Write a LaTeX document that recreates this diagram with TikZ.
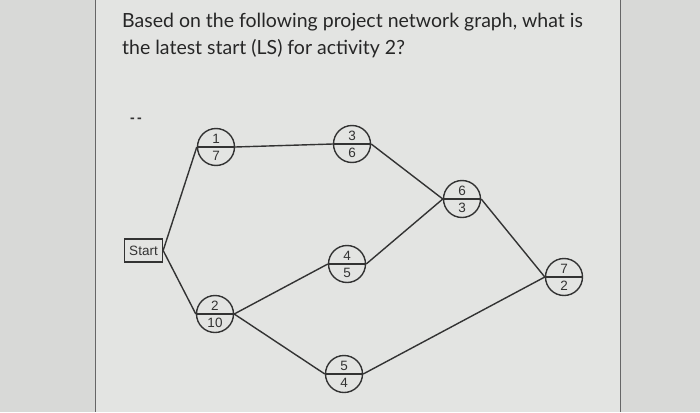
\documentclass[tikz,border=0pt]{standalone}
\usepackage{fontspec}
\setmainfont{Lato}
\newfontfamily\diagfont{Liberation Sans}
\usetikzlibrary{positioning}

\definecolor{screengray}{HTML}{D8D9D7}
\definecolor{panelgray}{HTML}{E3E4E2}
\definecolor{inkgray}{HTML}{333333}

\tikzset{
  act/.style={circle, draw=inkgray, line width=1.4pt, minimum size=37pt, inner sep=0pt},
  num/.style={font=\diagfont\fontsize{13.5}{13.5}\selectfont, text=inkgray, inner sep=0pt},
  startbox/.style={draw=inkgray, line width=1.3pt, minimum width=38pt, minimum height=23pt,
    inner sep=0pt, font=\diagfont\fontsize{13.5}{13.5}\selectfont, text=inkgray},
  link/.style={draw=inkgray, line width=1.4pt}
}

% one activity: name, position, top number, bottom number
\newcommand{\activity}[4]{%
  \node[act] (#1) at (#2) {};
  \draw[link] (#1.west) -- (#1.east);
  \node[num] (#1-top) at ([yshift=8.5pt]#1.center) {#3};
  \node[num] (#1-bot) at ([yshift=-8.5pt]#1.center) {#4};
}

\begin{document}
\begin{tikzpicture}[x=1pt,y=-1pt]
  \useasboundingbox (0,0) rectangle (700,412);
  \fill[screengray] (0,0) rectangle (700,412);
  \fill[panelgray] (95,0) rectangle (620,412);
  \draw[gray!80!black, line width=0.8pt] (95,0) -- (95,412);
  \draw[gray!80!black, line width=0.8pt] (620,0) -- (620,412);

  % question
  \node[anchor=base west, inner sep=0pt, text=black!85, font=\fontsize{19.5}{26.5}\selectfont,
        align=left] (question) at (122,54)
    {Based on the following project network graph, what is\\the latest start (LS) for activity 2?};
  \node[font=\diagfont\bfseries\fontsize{14}{14}\selectfont, text=black!80, inner sep=0pt] (mark) at (136,120) {-\,-};

  % network
  \node[startbox] (start) at (143.5,250.5) {Start};
  \activity{a1}{216,147}{1}{7}
  \activity{a3}{352,144}{3}{6}
  \activity{a6}{462,199}{6}{3}
  \activity{a4}{347,264}{4}{5}
  \activity{a7}{564,277}{7}{2}
  \activity{a2}{215,314}{2}{10}
  \activity{a5}{344,374}{5}{4}

  \draw[link] (start.east) -- (a1.west);
  \draw[link] (start.east) -- (a2.west);
  \draw[link] (a1.east) -- (a3.west);
  \draw[link] (a3.east) -- (a6.west);
  \draw[link] (a2.east) -- (a4.west);
  \draw[link] (a4.east) -- (a6.west);
  \draw[link] (a6.east) -- (a7.west);
  \draw[link] (a2.east) -- (a5.west);
  \draw[link] (a5.east) -- (a7.west);
\end{tikzpicture}
\end{document}
